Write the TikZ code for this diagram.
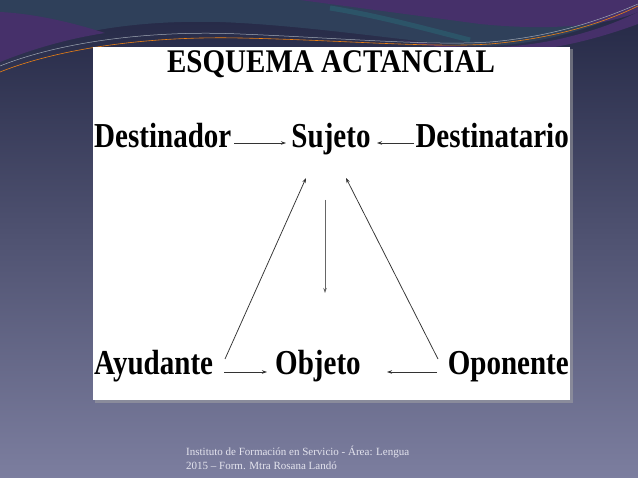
\documentclass[tikz,border=0pt]{standalone}
\usepackage{fontspec}
\setmainfont{Liberation Serif}
\usetikzlibrary{arrows.meta}
\definecolor{bgtop}{HTML}{232744}
\definecolor{bgbot}{HTML}{7C7E9F}
\definecolor{waveslate}{HTML}{2F405A}
\definecolor{wavepurple}{HTML}{46306A}
\definecolor{waveteal}{HTML}{2C5468}
\definecolor{footgray}{HTML}{E4E4EE}
\newcommand{\actname}[1]{\scalebox{0.83}[1]{\fontsize{35}{37}\selectfont\bfseries #1}}
\newcommand{\ttlname}[1]{\scalebox{0.88}[1]{\fontsize{33}{35}\selectfont\bfseries #1}}
\tikzset{
  actor/.style={inner sep=0pt, text=black},
  conn/.style={draw=black!80, line width=0.75pt, -{Stealth[length=5pt,width=3.5pt]}},
  foot/.style={font=\fontsize{11}{14}\selectfont, text=footgray, inner sep=0pt, align=left}
}
\begin{document}
\begin{tikzpicture}[x=1pt,y=-1pt]
\useasboundingbox (0,0) rectangle (638,478);
% background
\shade[top color=bgtop, bottom color=bgbot] (0,0) rectangle (638,478);
% top waves
\fill[waveslate] (0,0) -- (638,0) -- (638,8) .. controls (610,20) and (550,46) .. (480,46) .. controls (420,44) and (320,26) .. (220,22) .. controls (140,20) and (60,30) .. (0,62) -- cycle;
\fill[wavepurple] (0,12) .. controls (40,14) and (80,25) .. (105,33) .. controls (60,40) and (25,52) .. (0,62) -- cycle;
\fill[wavepurple] (300,0) -- (638,0) -- (638,12) .. controls (600,28) and (540,30) .. (480,24) .. controls (420,16) and (360,8) .. (300,0) -- cycle;
\draw[waveteal, line width=5pt] (330,8) .. controls (380,16) and (430,30) .. (470,40);
\fill[wavepurple] (400,40) .. controls (440,46) and (470,48) .. (500,47) .. controls (560,44) and (610,26) .. (638,12) -- (638,24) .. controls (600,38) and (550,52) .. (500,52) .. controls (460,52) and (430,46) .. (400,40) -- cycle;
\draw[white!55!waveslate, line width=0.5pt] (0,66) .. controls (60,42) and (150,30) .. (240,34) .. controls (340,38) and (430,46) .. (490,42) .. controls (560,36) and (610,16) .. (638,4);
\draw[orange!70!brown, line width=0.6pt] (0,72) .. controls (60,48) and (150,36) .. (240,38) .. controls (340,40) and (430,48) .. (490,44) .. controls (560,38) and (610,20) .. (638,6);
% panel shadow and panel
\fill[black!35, opacity=0.5] (95,49) rectangle (573,403);
\fill[white] (93,47) rectangle (570,400);
% title
\node[actor, anchor=base] (title) at (331,73) {\ttlname{ESQUEMA ACTANCIAL}};
% nodes
\node[actor, anchor=base west] (dor) at (94,148) {\actname{Destinador}};
\node[actor, anchor=base] (suj) at (331,148) {\actname{Sujeto}};
\node[actor, anchor=base east] (tar) at (569,148) {\actname{Destinatario}};
\node[actor, anchor=base west] (ayu) at (94,375) {\actname{Ayudante}};
\node[actor, anchor=base] (obj) at (318,375) {\actname{Objeto}};
\node[actor, anchor=base east] (opo) at (569,375) {\actname{Oponente}};
% anchor coordinates
\coordinate (a1s) at (234,143);
\coordinate (a1e) at (286,143);
\coordinate (a2s) at (414,143);
\coordinate (a2e) at (377,143);
\coordinate (a3s) at (224,372);
\coordinate (a3e) at (267,372);
\coordinate (a4s) at (437,372);
\coordinate (a4e) at (387,372);
\coordinate (d1s) at (225,359);
\coordinate (d1e) at (306,178);
\coordinate (d2s) at (438,359);
\coordinate (d2e) at (346,178);
\coordinate (vs) at (325,200);
\coordinate (ve) at (325,293);
% connectors
\draw[conn] (a1s) -- (a1e);
\draw[conn] (a2s) -- (a2e);
\draw[conn] (a3s) -- (a3e);
\draw[conn] (a4s) -- (a4e);
\draw[conn] (d1s) -- (d1e);
\draw[conn] (d2s) -- (d2e);
\draw[conn, draw=black!60] (vs) -- (ve);
% footer
\node[foot, anchor=north west] (ft) at (186,446) {Instituto de Formación en Servicio - Área: Lengua\\2015 – Form. Mtra Rosana Landó};
\end{tikzpicture}
\end{document}
